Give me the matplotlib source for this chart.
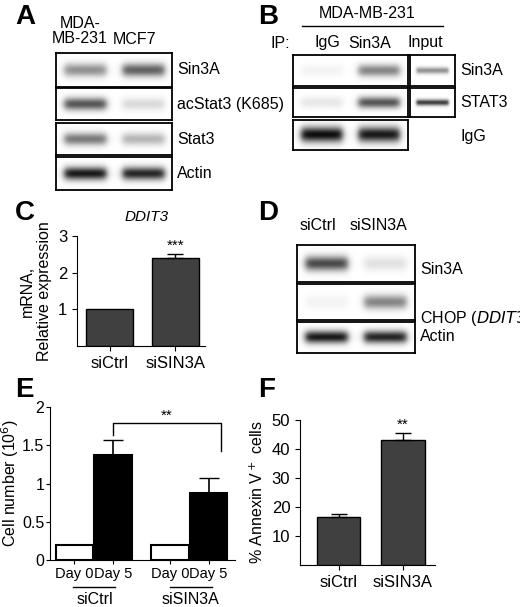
import numpy as np
import matplotlib
matplotlib.use("Agg")
import matplotlib.pyplot as plt
from matplotlib.lines import Line2D

plt.rcParams['font.family'] = ['Liberation Sans', 'DejaVu Sans']

W, H = 520, 607
fig = plt.figure(figsize=(W/100, H/100), dpi=100)

def ax_px(x0, y0, x1, y1, **kw):
    return fig.add_axes([x0/W, 1-y1/H, (x1-x0)/W, (y1-y0)/H], **kw)

def txt(x, y, s, **kw):
    kw.setdefault('fontsize', 11)
    kw.setdefault('va', 'center')
    fig.text(x/W, 1-y/H, s, **kw)

def line_px(x0, y0, x1, y1, lw=1):
    fig.add_artist(Line2D([x0/W, x1/W], [1-y0/H, 1-y1/H], color='black', lw=lw))

# blot band intensities (0..1), per lane
A_rows = ["Sin3A", "acStat3 (K685)", "Stat3", "Actin"]
A_bands = [[0.45, 0.65], [0.7, 0.15], [0.55, 0.3], [0.95, 0.9]]
B_rows = ["Sin3A", "STAT3"]
B_bands = [[0.05, 0.5], [0.1, 0.7]]
B_input = [0.45, 0.8]
B_igg = [1.0, 0.95]
D_rows = ["Sin3A", "CHOP ($\\it{DDIT3}$)", "Actin"]
D_bands = [[0.75, 0.12], [0.05, 0.5], [0.95, 0.9]]

def blot(x0, y0, x1, y1, lanes, thick=0.28):
    ax = ax_px(x0, y0, x1, y1)
    nx, ny = 200, 60
    xx = np.linspace(0, 1, nx)[None, :]
    yy = np.linspace(0, 1, ny)[:, None]
    img = np.zeros((ny, nx))
    n = len(lanes)
    for i, v in enumerate(lanes):
        c = (i + 0.5) / n
        hw = 0.36 / n
        prof_x = 1 / (1 + np.exp(-(xx - (c - hw)) * 60)) * 1 / (1 + np.exp((xx - (c + hw)) * 60))
        prof_y = np.exp(-((yy - 0.5) / thick) ** 2 * 2)
        img += v * prof_x * prof_y
    ax.imshow(1 - np.clip(img, 0, 1) * 0.95, cmap='gray', vmin=0, vmax=1,
              aspect='auto', extent=[0, 1, 0, 1])
    ax.set_xticks([]); ax.set_yticks([])
    for s in ax.spines.values():
        s.set_linewidth(1.3)
    return ax

# ---- A
txt(15, 17, "A", fontsize=20, fontweight='bold')
txt(80, 31, "MDA-\nMB-231", ha='center', linespacing=1.0, fontsize=11.5)
txt(135, 40, "MCF7", ha='center', fontsize=11.5)
A_y = [(53, 87), (88, 120), (123, 155), (157, 190)]
for (y0, y1), name, b in zip(A_y, A_rows, A_bands):
    blot(56, y0, 172, y1, b)
    txt(177, (y0+y1)/2, name, ha='left', fontsize=11.5)

# ---- B
txt(258, 17, "B", fontsize=20, fontweight='bold')
txt(367, 13, "MDA-MB-231", ha='center', fontsize=11.5)
line_px(302, 26, 443, 26)
txt(270, 43, "IP:", ha='left', fontsize=11.5)
txt(327, 43, "IgG", ha='center', fontsize=11.5)
txt(370, 43, "Sin3A", ha='center', fontsize=11.5)
txt(425, 43, "Input", ha='center', fontsize=11.5)
B_y = [(55, 86), (88, 117)]
for (y0, y1), name, b, inp in zip(B_y, B_rows, B_bands, B_input):
    blot(293, y0, 408, y1, b)
    blot(410, y0, 455, y1, [inp], thick=0.15)
    txt(460, (y0+y1)/2, name, ha='left', fontsize=11.5)
blot(293, 120, 408, 150, B_igg, thick=0.35)
txt(460, 137, "IgG", ha='left', fontsize=11.5)

# ---- C
C_groups = ["siCtrl", "siSIN3A"]
C_values = [1.0, 2.4]
C_err = [0.0, 0.12]
txt(15, 213, "C", fontsize=20, fontweight='bold')
txt(147, 217, "DDIT3", ha='center', style='italic')
ax = ax_px(77, 236, 205, 346)
ax.bar([0, 1], C_values, width=0.72, color='#404040', edgecolor='black', lw=1)
ax.errorbar([1], C_values[1:], yerr=[[0], C_err[1:]], fmt='none', ecolor='black', capsize=6, lw=1)
ax.text(1, 2.62, "***", ha='center', fontsize=11)
ax.set_xlim(-0.5, 1.45); ax.set_ylim(0, 3)
ax.set_yticks([1, 2, 3]); ax.set_xticks([0, 1]); ax.set_xticklabels(C_groups, fontsize=12.5)
ax.tick_params(labelsize=12)
ax.set_ylabel("mRNA,\nRelative expression", fontsize=11.5)
for s in ['top', 'right']: ax.spines[s].set_visible(False)

# ---- D
txt(258, 213, "D", fontsize=20, fontweight='bold')
txt(318, 225, "siCtrl", ha='center', fontsize=11.5)
txt(378, 225, "siSIN3A", ha='center', fontsize=11.5)
D_y = [(245, 282), (284, 320), (322, 353)]
D_lab_y = [270, 318, 337]
for (y0, y1), b in zip(D_y, D_bands):
    blot(297, y0, 415, y1, b)
for name, ly in zip(D_rows, D_lab_y):
    txt(420, ly, name, ha='left', fontsize=11.5)

# ---- E
E_labels = ["Day 0", "Day 5", "Day 0", "Day 5"]
E_values = [0.2, 1.37, 0.2, 0.87]
E_err = [0.0, 0.2, 0.0, 0.2]
txt(15, 390, "E", fontsize=20, fontweight='bold')
ax = ax_px(50, 407, 235, 560)
pos = [0, 0.95, 2.35, 3.3]
cols = ['white', 'black', 'white', 'black']
ax.bar(pos, E_values, width=0.92, color=cols, edgecolor='black', lw=1.5)
ax.errorbar([pos[1], pos[3]], [E_values[1], E_values[3]], yerr=[[0, 0], [E_err[1], E_err[3]]],
            fmt='none', ecolor='black', capsize=7, lw=1.2)
ax.plot([pos[1], pos[1], pos[3]+0.3, pos[3]+0.3], [1.63, 1.79, 1.79, 1.42], color='black', lw=1)
ax.text((pos[1]+pos[3]+0.3)/2, 1.83, "**", ha='center', fontsize=11)
ax.set_xlim(-0.6, 3.95); ax.set_ylim(0, 2)
ax.set_yticks([0, 0.5, 1, 1.5, 2]); ax.set_yticklabels(["0", "0.5", "1", "1.5", "2"])
ax.set_xticks(pos); ax.set_xticklabels(E_labels, fontsize=10.5)
ax.tick_params(axis='y', labelsize=11.5, length=3, pad=1)
ax.tick_params(axis='x', pad=2, length=3)
ax.set_ylabel("Cell number (10$^6$)", fontsize=11.5, labelpad=1)
for s in ['top', 'right']: ax.spines[s].set_visible(False)
line_px(73, 587, 115, 587)
line_px(170, 587, 212, 587)
txt(95, 600, "siCtrl", ha='center', fontsize=11.5)
txt(190, 600, "siSIN3A", ha='center', fontsize=11.5)

# ---- F
F_groups = ["siCtrl", "siSIN3A"]
F_values = [16.5, 43.0]
F_err = [1.2, 2.5]
txt(258, 390, "F", fontsize=20, fontweight='bold')
ax = ax_px(300, 420, 435, 565)
ax.bar([0, 1], F_values, width=0.68, color='#404040', edgecolor='black', lw=1)
ax.errorbar([0, 1], F_values, yerr=[[0, 0], F_err], fmt='none', ecolor='black', capsize=6, lw=1)
ax.text(1, 47, "**", ha='center', fontsize=11)
ax.set_xlim(-0.6, 1.5); ax.set_ylim(0, 50)
ax.set_yticks([10, 20, 30, 40, 50])
ax.set_xticks([0, 1]); ax.set_xticklabels(F_groups, fontsize=12)
ax.tick_params(labelsize=12)
ax.set_ylabel("% Annexin V$^+$ cells", fontsize=11.5)
for s in ['top', 'right']: ax.spines[s].set_visible(False)

fig.savefig("out.png", dpi=100)
